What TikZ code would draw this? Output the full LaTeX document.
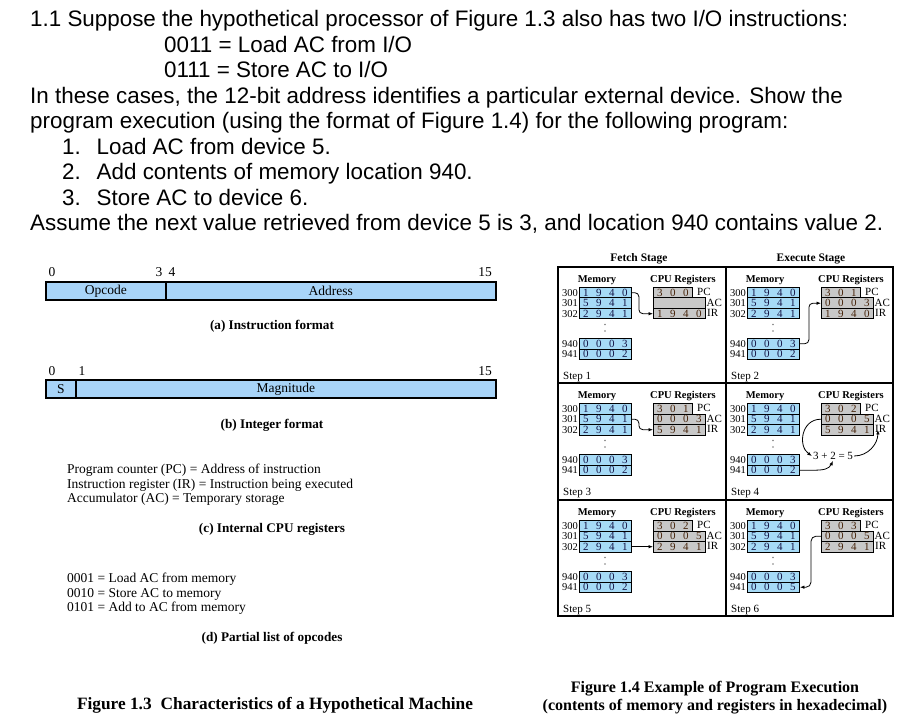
\documentclass[tikz,border=0pt]{standalone}
\usepackage{fontspec}
\setmainfont{Liberation Serif}
\newfontfamily\sansf{Liberation Sans}
\usetikzlibrary{arrows.meta,calc}
\definecolor{barblue}{RGB}{168,212,248}
\definecolor{memblue}{RGB}{166,218,246}
\definecolor{reggray}{RGB}{200,200,200}
\definecolor{memtxt}{RGB}{20,20,70}
\definecolor{regtxt}{RGB}{70,35,10}
\newcommand\fs[1]{\fontsize{#1}{#1}\selectfont}
\makeatletter
\def\dg#1{\dg@loop#1\relax}
\def\dg@loop#1{\ifx#1\relax\else\makebox[13pt]{#1}\expandafter\dg@loop\fi}
\makeatother
\tikzset{
 toptext/.style={font=\sansf\fs{22.4}, anchor=base west, inner sep=0},
 bitnum/.style={font=\fs{13.5}, anchor=base, inner sep=0},
 barcell/.style={draw, line width=1.6pt, fill=barblue, anchor=north west, minimum height=18pt, inner sep=0, font=\fs{13.5}},
 ltext/.style={font=\fs{13.5}, anchor=base west, inner sep=0},
 lcap/.style={font=\bfseries\fs{13.2}, anchor=base, inner sep=0},
 figcap/.style={font=\bfseries\fs{16}, anchor=base, inner sep=0},
 stagehead/.style={font=\bfseries\fs{11.5}, anchor=base, inner sep=0},
 head/.style={font=\bfseries\fs{10.5}, inner sep=0},
 memcell/.style={draw, line width=0.9pt, fill=memblue, anchor=north west, minimum width=52pt, minimum height=10.5pt, inner sep=0, font=\fs{11}, text=memtxt},
 regcell/.style={draw, line width=0.9pt, fill=reggray, anchor=north west, minimum width=52pt, minimum height=10.5pt, inner sep=0, font=\fs{11}, text=regtxt},
 addrlab/.style={font=\fs{10.5}, anchor=east, inner sep=0},
 reglab/.style={font=\fs{11}, anchor=west, inner sep=0},
 steplab/.style={font=\fs{11}, anchor=west, inner sep=0},
 arr/.style={-{Latex[length=4.5pt,width=3.5pt]}, line width=0.8pt},
 grid/.style={line width=2pt}
}
\newcommand\stepcell[7]{%
 \begin{scope}[shift={(#2,#3)}]
  \node[head] (s#1hm) at (39,13) {Memory};
  \node[head] (s#1hr) at (125,13) {CPU Registers};
  \node[memcell] (s#1m300) at (21,20) {\dg{1940}};
  \node[memcell] (s#1m301) at (21,30.5) {\dg{5941}};
  \node[memcell] (s#1m302) at (21,41) {\dg{2941}};
  \node[memcell] (s#1m940) at (21,71) {\dg{0003}};
  \node[memcell] (s#1m941) at (21,81.5) {\dg{#7}};
  \node[addrlab] (s#1a300) at ([xshift=-1pt]s#1m300.west) {300};
  \node[addrlab] (s#1a301) at ([xshift=-1pt]s#1m301.west) {301};
  \node[addrlab] (s#1a302) at ([xshift=-1pt]s#1m302.west) {302};
  \node[addrlab] (s#1a940) at ([xshift=-1pt]s#1m940.west) {940};
  \node[addrlab] (s#1a941) at ([xshift=-1pt]s#1m941.west) {941};
  \fill[gray] (47,57.5) circle (0.8) (47,64) circle (0.8);
  \node[regcell, minimum width=39pt] (s#1pc) at (95,20) {\dg{#4}};
  \node[regcell] (s#1ac) at (95,30.5) {\dg{#5}};
  \node[regcell] (s#1ir) at (95,41) {\dg{#6}};
  \node[reglab] (s#1lpc) at (139,25.25) {PC};
  \node[reglab] (s#1lac) at (148.5,35.75) {AC};
  \node[reglab] (s#1lir) at (149,46.25) {IR};
  \node[steplab] (s#1st) at (5,110) {Step #1};
 \end{scope}}
\begin{document}
\begin{tikzpicture}[x=1pt,y=-1pt]
\useasboundingbox (0,0) rectangle (919,722);
\fill[white] (0,0) rectangle (919,722);
% ---- problem text
\node[toptext] (t1) at (30,27) {1.1 Suppose the hypothetical processor of Figure 1.3 also has two I/O instructions:};
\node[toptext] (t2) at (164,52.5) {0011 = Load AC from I/O};
\node[toptext] (t3) at (164,78) {0111 = Store AC to I/O};
\node[toptext] (t4) at (30,103.5) {In these cases, the 12-bit address identifies a particular external device. Show the};
\node[toptext] (t5) at (30,129) {program execution (using the format of Figure 1.4) for the following program:};
\node[toptext] (n1) at (62,154.5) {1.};
\node[toptext] (l1) at (96.5,154.5) {Load AC from device 5.};
\node[toptext] (n2) at (62,180) {2.};
\node[toptext] (l2) at (96.5,180) {Add contents of memory location 940.};
\node[toptext] (n3) at (62,205.5) {3.};
\node[toptext] (l3) at (96.5,205.5) {Store AC to device 6.};
\node[toptext] (t6) at (30,231) {Assume the next value retrieved from device 5 is 3, and location 940 contains value 2.};
% ---- Figure 1.3
\node[bitnum] (a0) at (52,277) {0};
\node[bitnum] (a3) at (159,277) {3};
\node[bitnum] (a4) at (172,277) {4};
\node[bitnum] (a15) at (485,277) {15};
\node[barcell, minimum width=120pt] (opc) at (45,281) {Opcode};
\node[barcell, minimum width=330pt] (adr) at (165,281) {Address};
\node[lcap] (capa) at (272,330) {(a) Instruction format};
\node[bitnum] (b0) at (52,375) {0};
\node[bitnum] (b1) at (82,375) {1};
\node[bitnum] (b15) at (485,375) {15};
\node[barcell, minimum width=30pt] (sgn) at (45,379) {S};
\node[barcell, minimum width=420pt] (mag) at (75,379) {Magnitude};
\node[lcap] (capb) at (272,428) {(b) Integer format};
\node[ltext] (c1) at (67,473.5) {Program counter (PC) = Address of instruction};
\node[ltext] (c2) at (67,488) {Instruction register (IR) = Instruction being executed};
\node[ltext] (c3) at (67,502.5) {Accumulator (AC) = Temporary storage};
\node[lcap] (capc) at (272,532) {(c) Internal CPU registers};
\node[ltext] (d1) at (67,582.5) {0001 = Load AC from memory};
\node[ltext] (d2) at (67,597) {0010 = Store AC to memory};
\node[ltext] (d3) at (67,611.5) {0101 = Add to AC from memory};
\node[lcap] (capd) at (272,641) {(d) Partial list of opcodes};
\node[figcap, font=\bfseries\fs{17.3}] (fig13) at (275,709) {Figure 1.3\hspace{9pt}Characteristics of a Hypothetical Machine};
% ---- Figure 1.4
\node[stagehead] (fetch) at (639,262) {Fetch Stage};
\node[stagehead] (exec) at (811,262) {Execute Stage};
\draw[grid] (558,267) rectangle (893,616);
\draw[grid] (726,267) -- (726,616);
\draw[grid] (558,383) -- (893,383);
\draw[grid] (558,500) -- (893,500);
\stepcell{1}{558}{267}{300}{}{1940}{0002}
\stepcell{2}{726}{267}{301}{0003}{1940}{0002}
\stepcell{3}{558}{383}{301}{0003}{5941}{0002}
\stepcell{4}{726}{383}{302}{0005}{5941}{0002}
\stepcell{5}{558}{500}{302}{0005}{2941}{0002}
\stepcell{6}{726}{500}{303}{0005}{2941}{0005}
\draw[arr, rounded corners=4pt] (s1m300.east) -- ++(7,0) |- (s1ir.west);
\draw[arr, rounded corners=4pt] (s2m940.east) -- ++(9,0) |- (s2ac.west);
\draw[arr, rounded corners=4pt] (s3m301.east) -- ++(7,0) |- (s3ir.west);
\node[font=\fs{11}, inner sep=1pt] (sum) at (833,456) {3 + 2 = 5};
\coordinate (s4tip) at ([xshift=4pt,yshift=-5pt]s4ac.south east);
\draw[arr] (s4ac.west) .. controls +(-20,0) and +(-14,-10) .. (sum.west);
\draw[arr] (s4m941.east) -- ++(14,0) .. controls +(10,0) and +(-4,8) .. (sum.south);
\draw[arr] (sum.east) .. controls +(14,0) and +(0,14) .. (s4tip);
\draw[arr] (s5m302.east) -- (s5ir.west);
\draw[arr, rounded corners=5pt] (s6ac.west) -- ++(-10,0) |- (s6m941.east);
\node[figcap] (fig14a) at (715,692) {Figure 1.4 Example of Program Execution};
\node[figcap] (fig14b) at (715,710) {(contents of memory and registers in hexadecimal)};
\end{tikzpicture}
\end{document}
